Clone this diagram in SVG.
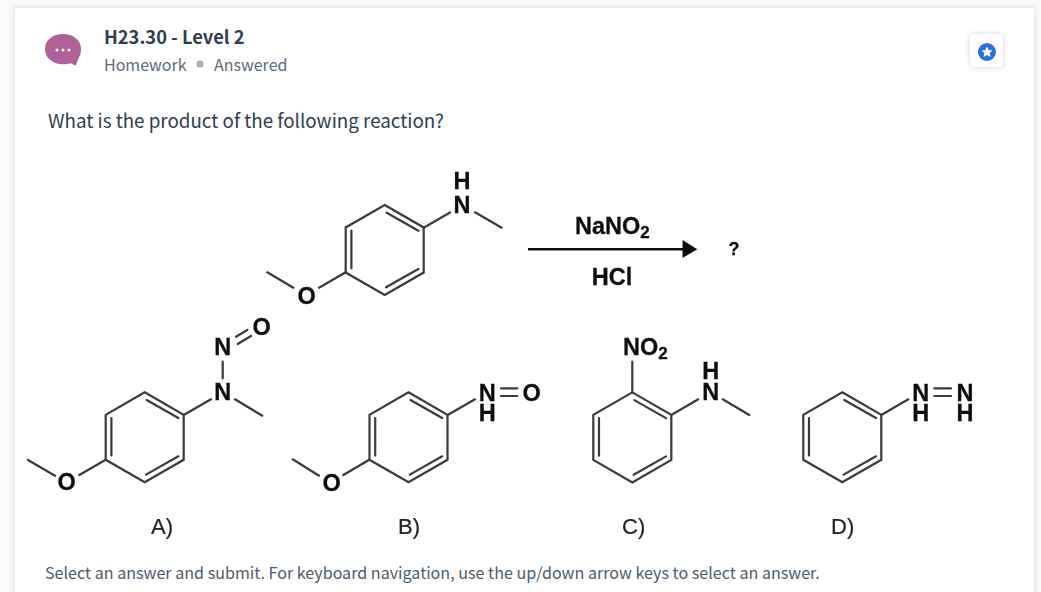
<svg xmlns="http://www.w3.org/2000/svg" width="1041" height="592" viewBox="0 0 1041 592">
<style>
.ui{font-family:"Noto Sans CJK SC","Noto Sans",sans-serif}
.chem{font-family:"Liberation Sans",Arial,sans-serif;font-weight:700;font-size:23.500px;fill:#111;stroke:#111;stroke-width:.3px;text-anchor:middle}
.sub{font-size:17px}
.opt{font-family:"Liberation Sans",Arial,sans-serif;font-size:22px;fill:#222;stroke:#222;stroke-width:.2px}
.b{stroke:#3a3a3a;stroke-width:2.200;fill:none;stroke-linecap:round}
</style>
<defs>
<filter id="sh" x="-5%" y="-5%" width="110%" height="110%"><feGaussianBlur stdDeviation="3"/></filter>
<filter id="shs" x="-50%" y="-50%" width="200%" height="200%"><feGaussianBlur stdDeviation="3"/></filter>
<filter id="soft" x="-5%" y="-5%" width="110%" height="110%"><feGaussianBlur stdDeviation="0.35"/></filter>
<g id="ring">
<path class="b" d="M0-45 39 -22.500V22.500L0 45-39 22.500V-22.500Z"/>
<path class="b" d="M2-37.300 33.700-19.300M-33.300-19.300V18.300M1.300 37.300 33.700 19"/>
</g>
</defs>
<rect width="1041" height="592" fill="#fafafa"/>
<g id="card">
<rect x="15" y="8" width="1019" height="600" fill="#000" opacity=".14" filter="url(#sh)"/>
<rect x="15" y="8" width="1019" height="600" fill="#fff"/>
</g>
<g id="header">
<path d="M63 34C73 34 81 40 81 49C81 55 78 59 77.500 61L75.500 65.700L71 63.200C68 64 65.500 64.300 63 64.300C53 64.300 45 58 45 49C45 40 53 34 63 34Z" fill="#ae6297"/>
<g fill="#fff"><circle cx="57" cy="50" r="1.500"/><circle cx="63" cy="50" r="1.500"/><circle cx="69" cy="50" r="1.500"/></g>
<text class="ui" x="104" y="44" font-size="18.300" font-weight="600" fill="#2e3e50">H23.30 - Level 2</text>
<text class="ui" x="104" y="71" font-size="16" fill="#5a6b7d">Homework</text>
<circle cx="200" cy="64" r="3.500" fill="#a0acb8"/>
<text class="ui" x="214" y="71" font-size="16" fill="#5a6b7d">Answered</text>
<text class="ui" x="48" y="128" font-size="18.800" fill="#2e3e50">What is the product of the following reaction?</text>
</g>
<g id="star-button">
<rect x="970" y="34" width="33" height="33" rx="3" fill="#000" opacity=".16" filter="url(#shs)"/>
<rect x="970" y="34" width="33" height="33" rx="3" fill="#fff"/>
<circle cx="987" cy="52" r="9" fill="#2a6fdb"/>
<path d="M987 46.500 988.700 50 992.500 50.500 989.700 53.100 990.400 56.900 987 55.100 983.600 56.900 984.300 53.100 981.500 50.500 985.300 50Z" fill="#fff"/>
</g>
<g id="reactant" filter="url(#soft)">
<use href="#ring" x="384.700" y="250"/>
<path class="b" d="M423.700 227.700 450 212.500M475 212.300 501.700 227.700M319 287.700 345.700 272.300M267.300 272.300 293.300 287.700"/>
<text class="chem"><tspan x="462" y="189">H</tspan><tspan x="462" y="212.500">N</tspan></text>
<text class="chem" x="306.700" y="303.500">O</text>
</g>
<g id="connectors" filter="url(#soft)">
<path d="M528 249.300H685" stroke="#111" stroke-width="2.500" fill="none"/>
<path d="M682.500 240 697.300 249.300 682.500 258Z" fill="#111"/>
</g>
<g id="conditions" filter="url(#soft)">
<text class="chem" x="575" y="234" style="text-anchor:start">NaNO<tspan class="sub" dy="4">2</tspan></text>
<text class="chem" x="612" y="285">HCl</text>
<text class="chem" x="734" y="255" style="font-size:18px">?</text>
</g>
<g id="option-a" filter="url(#soft)">
<use href="#ring" x="144.700" y="437.300"/>
<path class="b" d="M183.700 415 211 399.300M235 399.300 262.300 415.700M222.700 361.700V378.300M236 336.700 247.300 330M237.700 344 251 336M79.300 475 105.700 459.700M28 460 55 475.700"/>
<text class="chem" x="222.700" y="400">N</text>
<text class="chem" x="222.700" y="355">N</text>
<text class="chem" x="261.700" y="335">O</text>
<text class="chem" x="66.700" y="490">O</text>
<text class="opt" x="151" y="534">A)</text>
</g>
<g id="option-b" filter="url(#soft)">
<use href="#ring" x="408.500" y="437.300"/>
<path class="b" d="M447.700 415 475 399.300M501 388.300H517.300M501 396H517.300M343.300 475 369.300 459.700M292.700 459.300 319 475.700"/>
<text class="chem"><tspan x="487.300" y="400.500">N</tspan><tspan x="487.300" y="420.500">H</tspan></text>
<text class="chem" x="531.700" y="400.500">O</text>
<text class="chem" x="331.700" y="490.500">O</text>
<text class="opt" x="398" y="534">B)</text>
</g>
<g id="option-c" filter="url(#soft)">
<use href="#ring" x="632.300" y="437.400"/>
<path class="b" d="M632.300 392.300V361.700M671.300 415 698.300 399.300M722.700 399.300 749.300 415"/>
<text class="chem" x="623" y="355" style="text-anchor:start">NO<tspan class="sub" dy="4">2</tspan></text>
<text class="chem"><tspan x="710.700" y="378.500">H</tspan><tspan x="710.700" y="399.500">N</tspan></text>
<text class="opt" x="622" y="534">C)</text>
</g>
<g id="option-d" filter="url(#soft)">
<use href="#ring" x="842.300" y="437.300"/>
<path class="b" d="M881.300 415 908.300 399.300M934.300 388.300H951M934.300 396H951"/>
<text class="chem"><tspan x="920.700" y="400.500">N</tspan><tspan x="920.700" y="420.500">H</tspan></text>
<text class="chem"><tspan x="965" y="400.500">N</tspan><tspan x="965" y="420.500">H</tspan></text>
<text class="opt" x="831" y="534">D)</text>
</g>
<text class="ui" x="45" y="579" font-size="16.100" fill="#4c5c6c">Select an answer and submit. For keyboard navigation, use the up/down arrow keys to select an answer.</text>
</svg>
